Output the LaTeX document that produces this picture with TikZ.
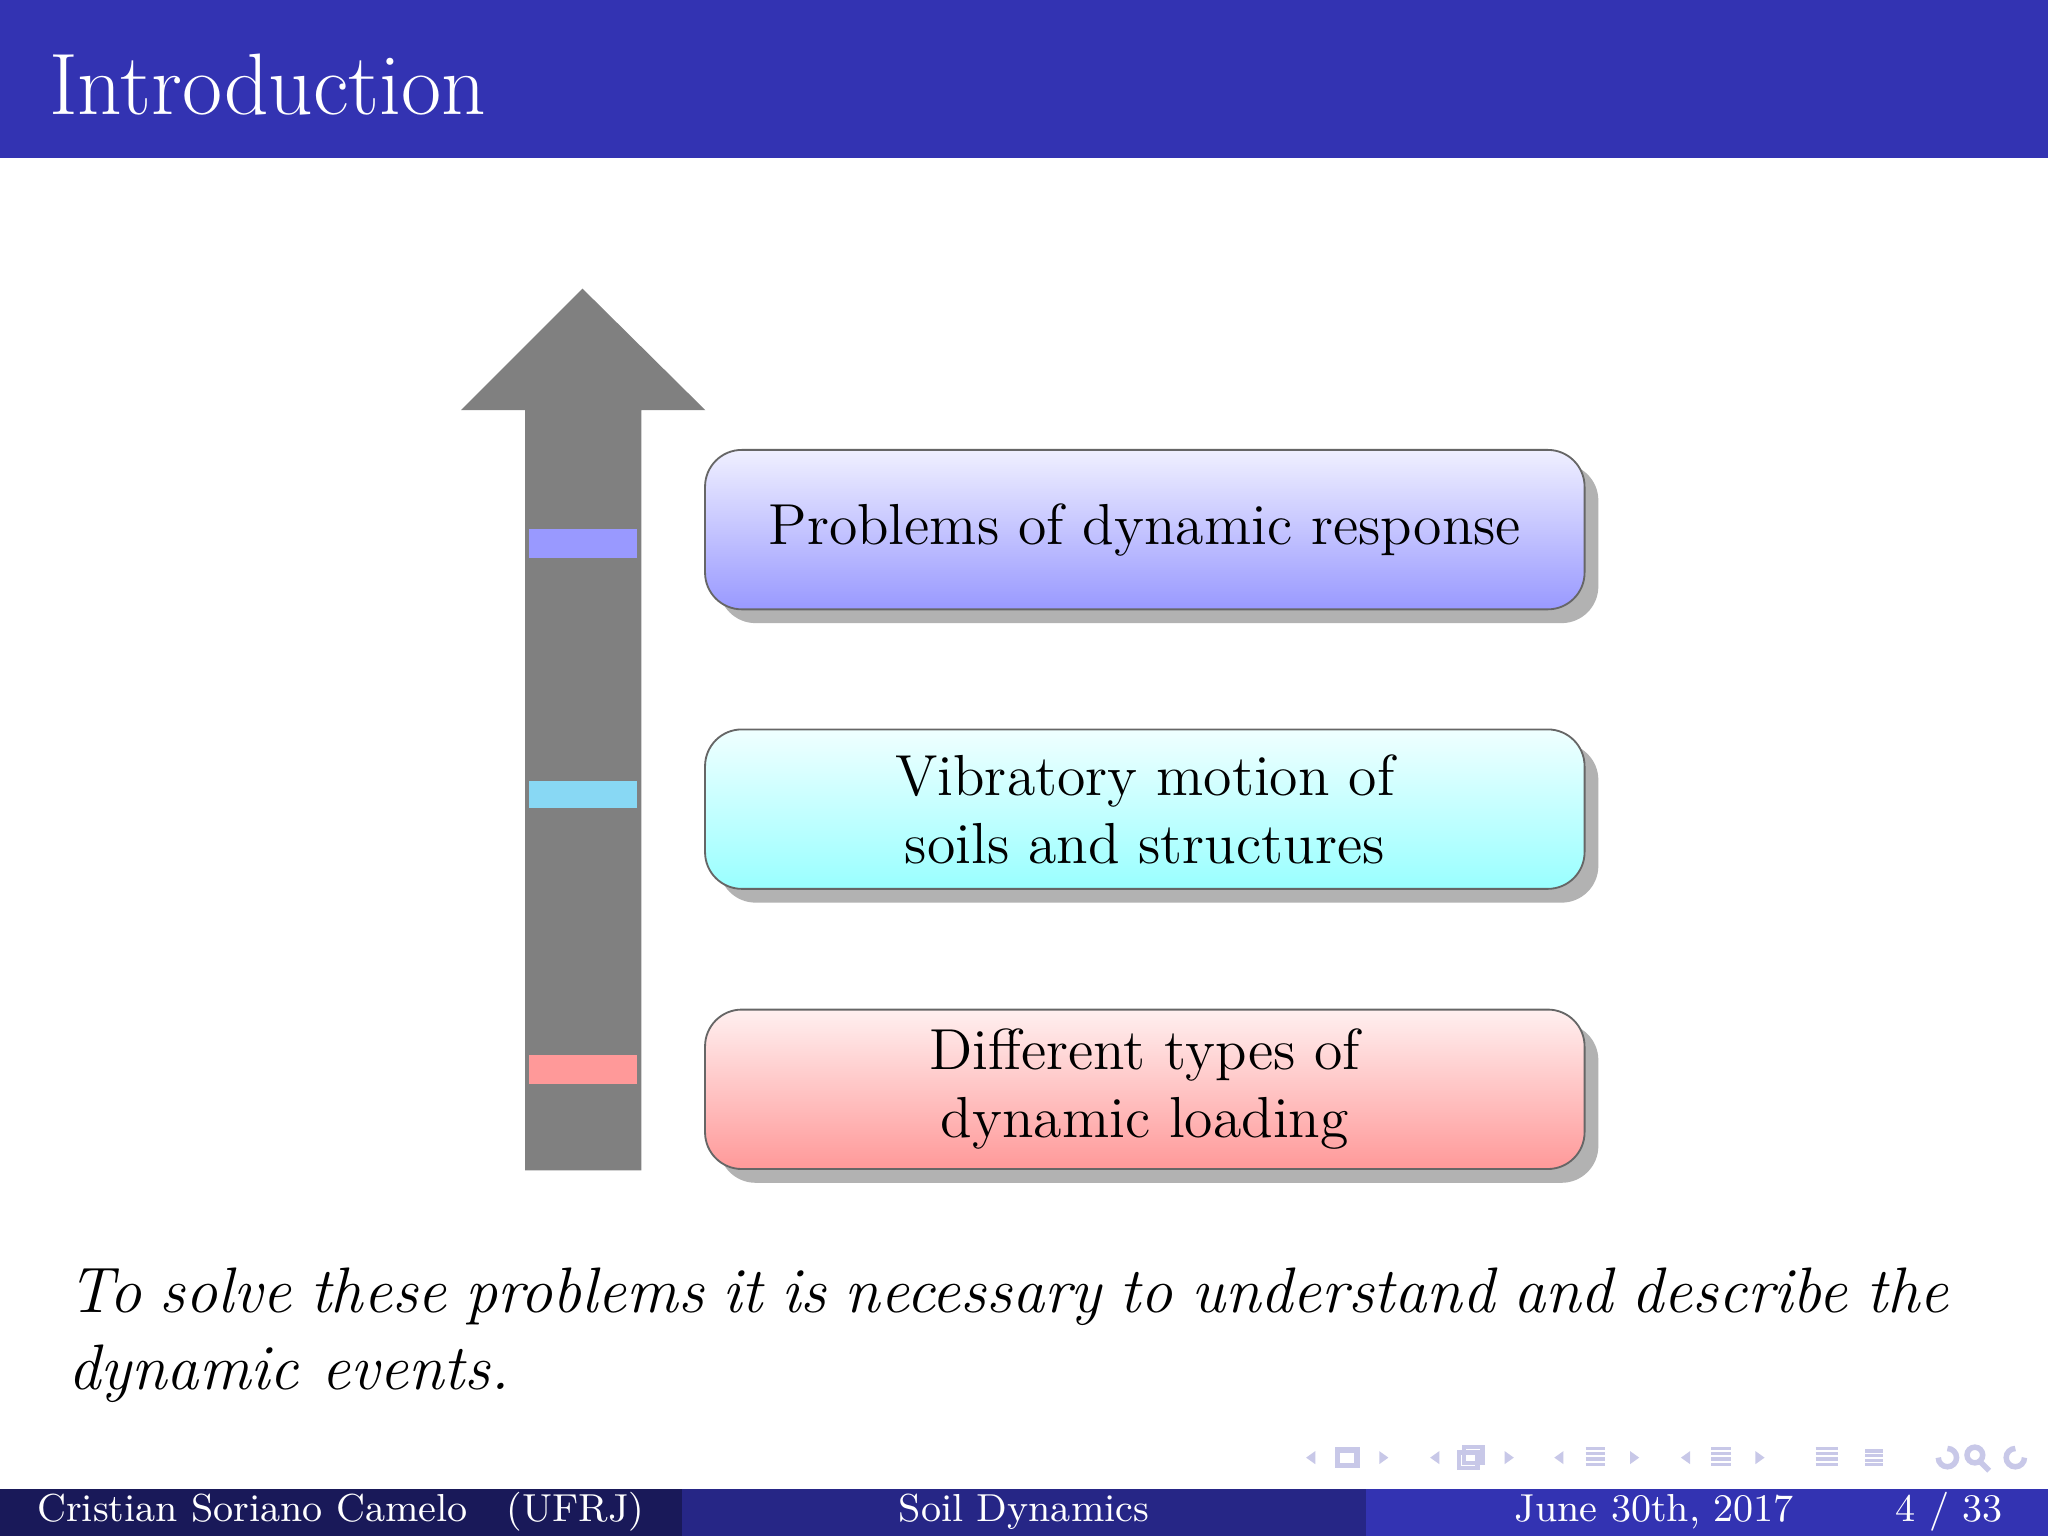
\documentclass[tikz,border=0pt]{standalone}
\usepackage{fontspec}
\usetikzlibrary{shadows}
\definecolor{hdr}{HTML}{3333B2}
\definecolor{fA}{HTML}{191959}
\definecolor{fB}{HTML}{262686}
\definecolor{cblue}{HTML}{9999FF}
\definecolor{ccyan}{HTML}{99FFFF}
\definecolor{cred}{HTML}{FF9999}
\definecolor{bcyan}{HTML}{88D8F4}
\definecolor{navc}{HTML}{C8C8E8}
\begin{document}
\begin{tikzpicture}[x=0.01cm,y=-0.01cm,
 boxstyle/.style={draw=black!60,rounded corners=8pt,
   drop shadow={shadow xshift=3pt,shadow yshift=-3pt,fill=black!30,opacity=1},align=center,font=\fontsize{12.6}{14.8}\selectfont\addfontfeature{LetterSpace=2}},
 foot/.style={text=white,font=\fontsize{8.5}{10}\selectfont,anchor=base}]
\useasboundingbox (0,0) rectangle (1568,1176);
\fill[white] (0,0) rectangle (1568,1176);
\fill[hdr] (0,0) rectangle (1568,121);
\node[anchor=base west,text=white,font=\fontsize{19}{24}\selectfont,inner sep=0] (title) at (37,88) {Introduction};
% arrow
\fill[black!50] (402,896) -- (402,314) -- (353,314) -- (446,221) -- (540,314) -- (491,314) -- (491,896) -- cycle;
\fill[cblue] (405,405) rectangle (488,427);
\fill[bcyan] (405,598) rectangle (488,619);
\fill[cred] (405,808) rectangle (488,830);
% boxes
\foreach \n/\c/\yc/\t in {b1/cblue/405.5/{Problems of dynamic response},
  b2/ccyan/619.5/{Vibratory motion of\\soils and structures},
  b3/cred/834/{Different types of\\dynamic loading}}{
 \node[boxstyle,top color=\c!15,bottom color=\c,minimum width=6.73cm,minimum height=1.22cm] (\n) at (876.5,\yc) {\t};
}
% italic text
\node[anchor=north west,inner sep=0,font=\fontsize{14}{16.8}\selectfont\itshape,text width=14.38cm,align=justify] (l1) at (52,970)
 {To solve these problems it is necessary to understand and describe the dynamic events.};
% nav symbols
\begin{scope}[navc,fill=navc]
\foreach \x in {1000,1095,1190,1287}{\fill (\x,1116) -- (\x+7,1111) -- (\x+7,1121) -- cycle;}
\foreach \x in {1063,1159,1255,1351}{\fill (\x,1116) -- (\x-7,1111) -- (\x-7,1121) -- cycle;}
\draw[line width=1.2pt] (1024,1110) rectangle (1039,1122);
\draw[line width=1pt] (1117,1112) rectangle (1131,1124) (1121,1108) rectangle (1135,1120);
\foreach \x in {1214,1310}{\foreach \k in {0,1,2,3}{\draw[line width=0.7pt] (\x,1109+\k*4) -- (\x+15,1109+\k*4);}}
\foreach \k in {0,1,2,3}{\draw[line width=0.7pt] (1390,1109+\k*4) -- (1407,1109+\k*4); \draw[line width=0.7pt] (1428,1111+\k*3.5) -- (1442,1111+\k*3.5);}
\draw[line width=1.2pt] (1484,1116) arc (180:-90:7); \draw[line width=1.2pt] (1512,1114) circle (6) (1516,1119) -- (1523,1126);
\draw[line width=1.2pt] (1550,1116) arc (0:270:7);
\end{scope}
% footer
\fill[fA] (0,1140) rectangle (522,1176);
\fill[fB] (522,1140) rectangle (1046,1176);
\fill[hdr] (1046,1140) rectangle (1568,1176);
\node[foot] (fa) at (261,1165) {\addfontfeature{LetterSpace=8}Cristian Soriano Camelo\quad(UFRJ)};
\node[foot] (fb) at (784,1165) {\addfontfeature{LetterSpace=8}Soil Dynamics};
\node[foot,anchor=base east] (fc) at (1386,1165) {\addfontfeature{LetterSpace=8}June 30th, 2017};
\node[foot,anchor=base east] (fd) at (1546,1165) {\addfontfeature{LetterSpace=8}4 / 33};
\end{tikzpicture}
\end{document}
